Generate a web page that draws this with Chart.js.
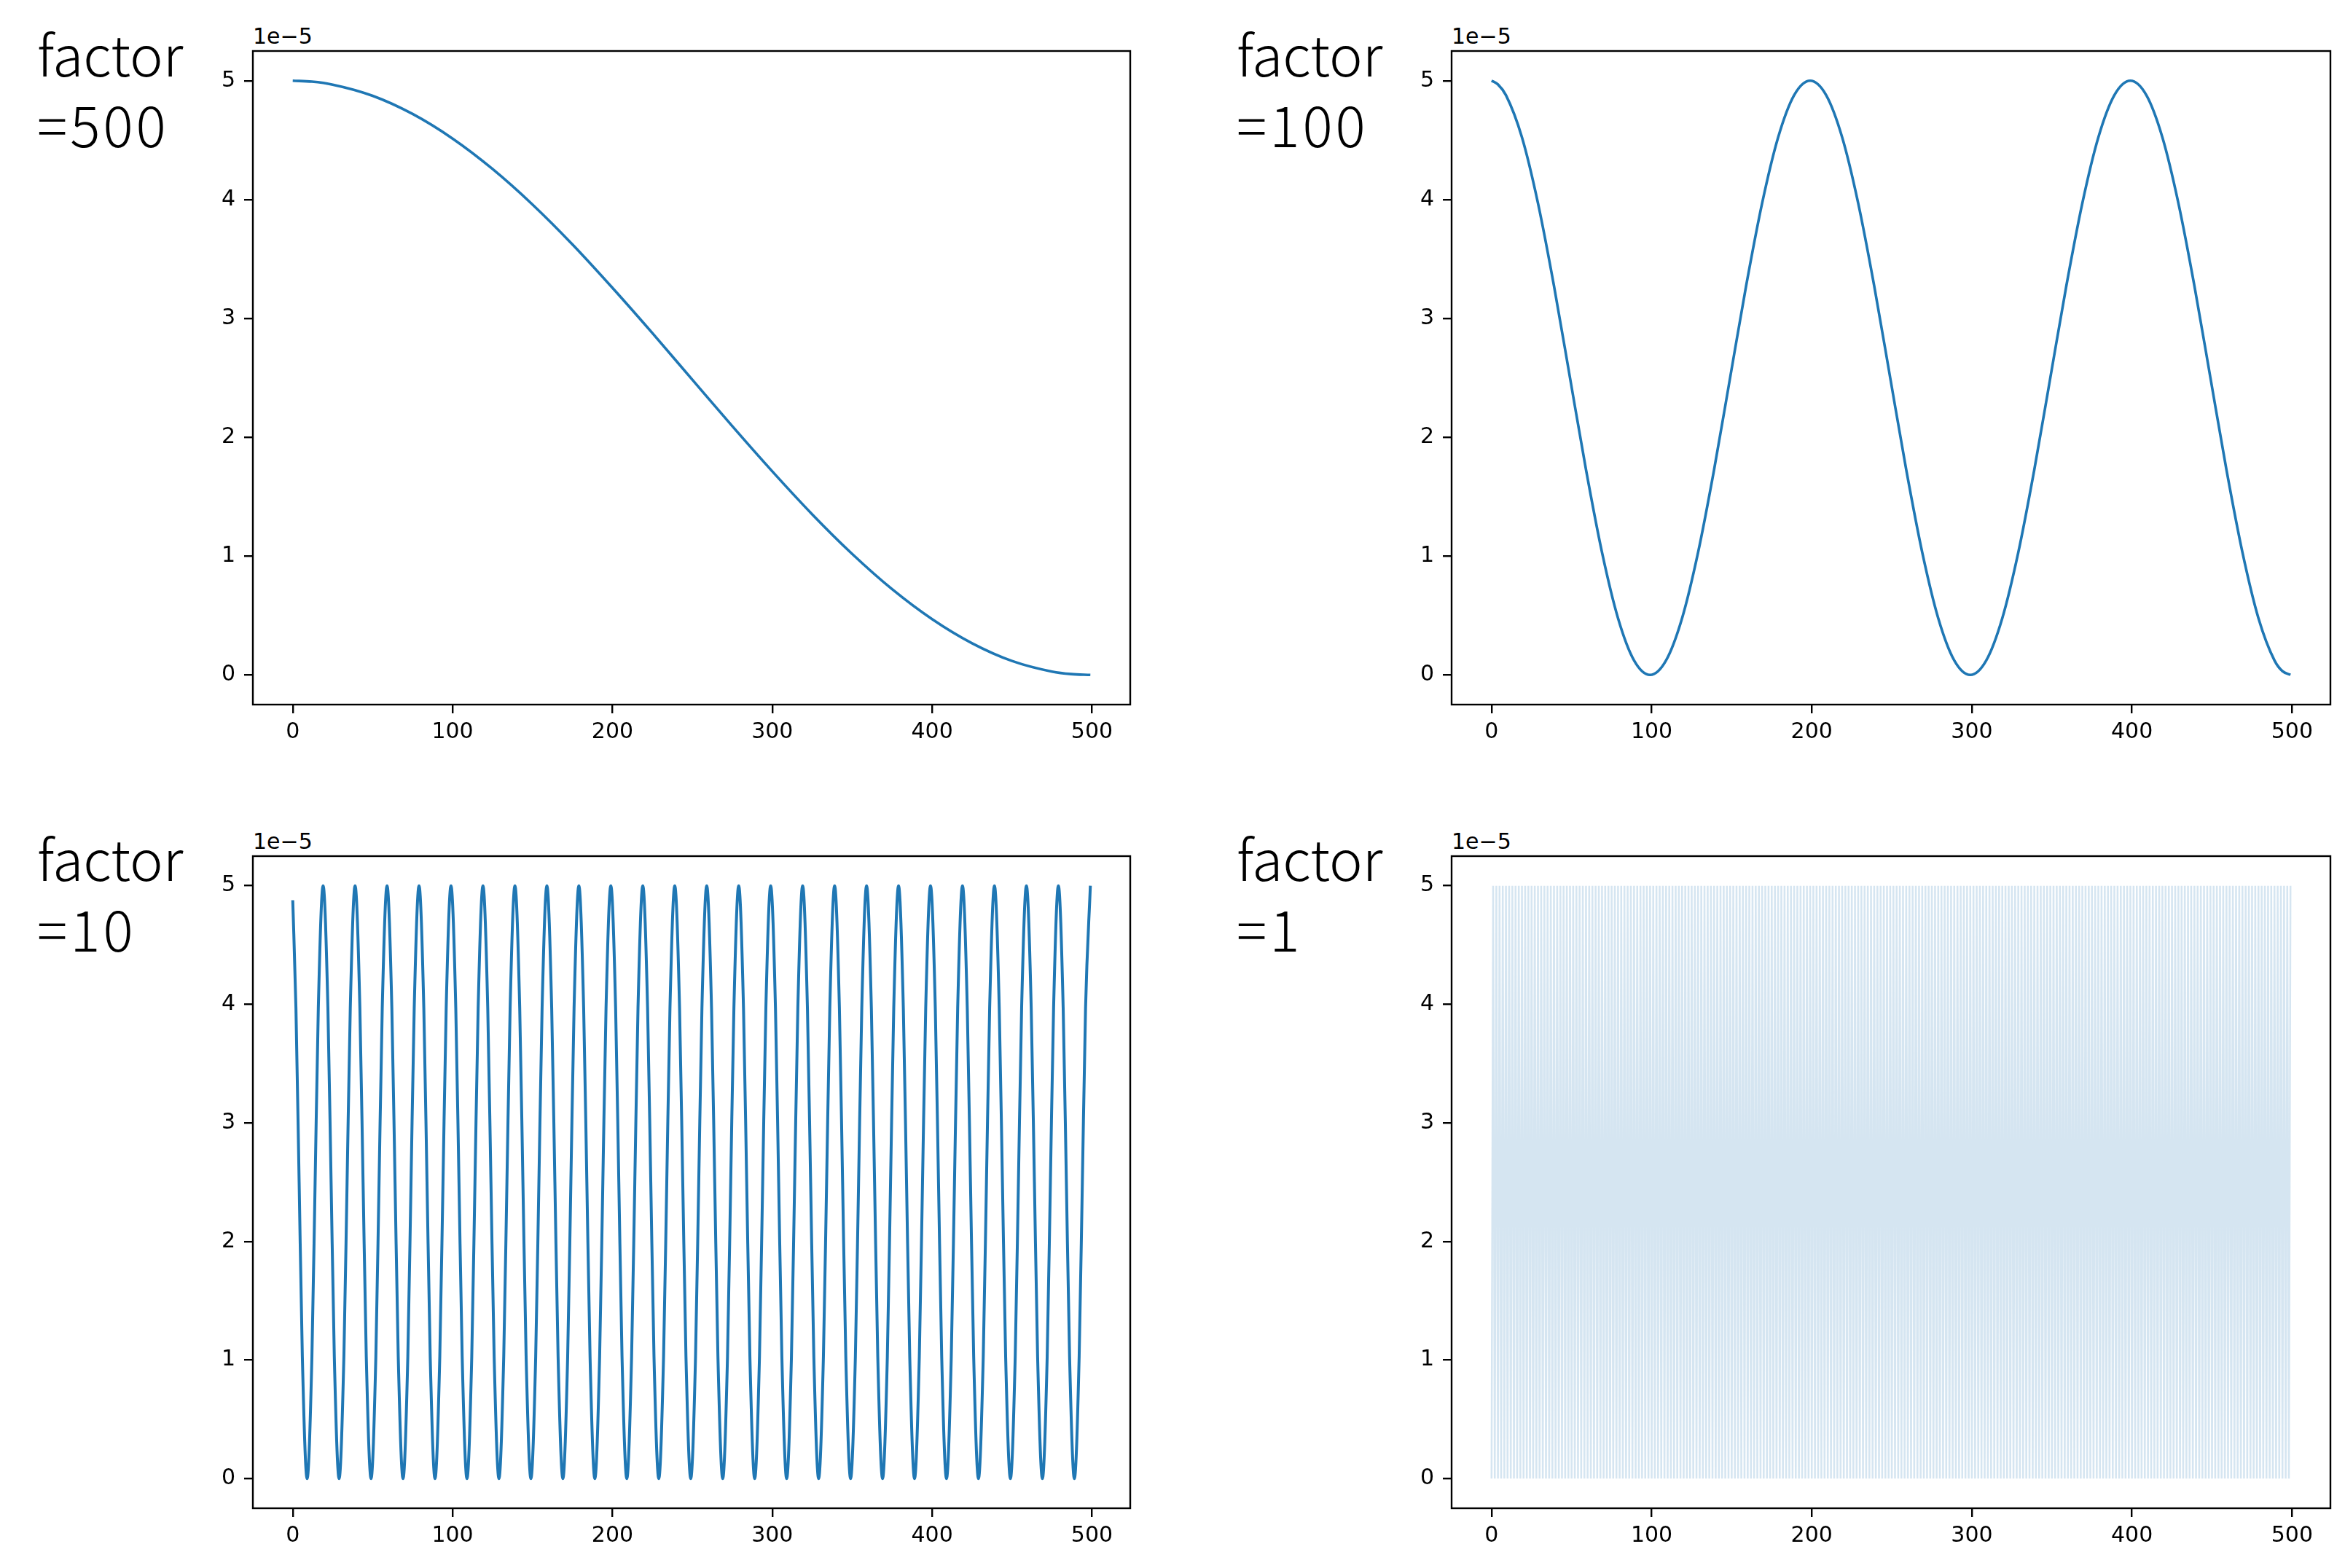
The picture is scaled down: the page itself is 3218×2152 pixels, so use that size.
<!DOCTYPE html>
<html>
<head>
<meta charset="utf-8">
<script src="https://cdn.jsdelivr.net/npm/chart.js@4.4.1/dist/chart.umd.min.js"></script>
<style>
  html, body { margin: 0; padding: 0; background: #fff; }
  body { width: 3218px; height: 2152px; position: relative; overflow: hidden; }
  canvas { position: absolute; }
  .factor { position: absolute; font-family: "Noto Sans CJK SC", "Noto Sans", sans-serif; font-weight: 300; font-size: 77px; line-height: 97px; color: #000; white-space: nowrap; }
  .factor span { letter-spacing: 4px; }
  .offset { position: absolute; font-family: "DejaVu Sans", sans-serif; font-size: 30px; line-height: 30px; color: #000; }
</style>
</head>
<body>
<div class="factor" style="left:51px;top:23px">factor<br><span>=500</span></div>
<div class="factor" style="left:1697px;top:23px">factor<br><span>=100</span></div>
<div class="factor" style="left:51px;top:1127px">factor<br><span>=10</span></div>
<div class="factor" style="left:1697px;top:1127px">factor<br><span>=1</span></div>
<div class="offset" style="left:347px;top:35px">1e−5</div>
<div class="offset" style="left:1992px;top:35px">1e−5</div>
<div class="offset" style="left:347px;top:1140px">1e−5</div>
<div class="offset" style="left:1992px;top:1140px">1e−5</div>
<script>
// cosine learning-rate curves, values in units of 1e-5
const xTicks = [0, 100, 200, 300, 400, 500];
const yTicks = [0, 1, 2, 3, 4, 5];

// factor = 500
const steps500 = [0, 12, 25, 50, 75, 100, 125, 150, 175, 200, 225, 250, 275, 300, 325, 350, 375, 400, 425, 450, 475, 487, 499];
const lr500 = [5.000, 4.992, 4.967, 4.873, 4.720, 4.513, 4.257, 3.958, 3.622, 3.257, 2.876, 2.484, 2.093, 1.713, 1.351, 1.018, 0.721, 0.469, 0.266, 0.117, 0.028, 0.007, 0.000];

// factor = 100
const steps100 = [0, 4, 9, 19, 29, 39, 49, 59, 69, 79, 89, 99, 109, 119, 129, 139, 149, 159, 169, 179, 189, 199,
  209, 219, 229, 239, 249, 259, 269, 279, 289, 299, 309, 319, 329, 339, 349, 359, 369, 379, 389, 399,
  409, 419, 429, 439, 449, 459, 469, 479, 489, 494, 499];
const lr100 = [5.000, 4.969,
  4.878, 4.523, 3.969, 3.273, 2.500, 1.727, 1.031, 0.477, 0.122, 0.000,
  0.122, 0.477, 1.031, 1.727, 2.500, 3.273, 3.969, 4.523, 4.878, 5.000,
  4.878, 4.523, 3.969, 3.273, 2.500, 1.727, 1.031, 0.477, 0.122, 0.000,
  0.122, 0.477, 1.031, 1.727, 2.500, 3.273, 3.969, 4.523, 4.878, 5.000,
  4.878, 4.523, 3.969, 3.273, 2.500, 1.727, 1.031, 0.477, 0.122, 0.031, 0.000];

// factor = 10
const steps10 = [0,
  2, 4, 6, 9, 12, 14, 16, 19, 22, 24, 26, 29, 32, 34, 36, 39,
  42, 44, 46, 49, 52, 54, 56, 59, 62, 64, 66, 69, 72, 74, 76, 79,
  82, 84, 86, 89, 92, 94, 96, 99, 102, 104, 106, 109, 112, 114, 116, 119,
  122, 124, 126, 129, 132, 134, 136, 139, 142, 144, 146, 149, 152, 154, 156, 159,
  162, 164, 166, 169, 172, 174, 176, 179, 182, 184, 186, 189, 192, 194, 196, 199,
  202, 204, 206, 209, 212, 214, 216, 219, 222, 224, 226, 229, 232, 234, 236, 239,
  242, 244, 246, 249, 252, 254, 256, 259, 262, 264, 266, 269, 272, 274, 276, 279,
  282, 284, 286, 289, 292, 294, 296, 299, 302, 304, 306, 309, 312, 314, 316, 319,
  322, 324, 326, 329, 332, 334, 336, 339, 342, 344, 346, 349, 352, 354, 356, 359,
  362, 364, 366, 369, 372, 374, 376, 379, 382, 384, 386, 389, 392, 394, 396, 399,
  402, 404, 406, 409, 412, 414, 416, 419, 422, 424, 426, 429, 432, 434, 436, 439,
  442, 444, 446, 449, 452, 454, 456, 459, 462, 464, 466, 469, 472, 474, 476, 479,
  482, 484, 486, 489, 492, 494, 496, 499];
const lr10 = [4.878,
  3.969, 2.5, 1.031, 0, 1.031, 2.5, 3.969, 5, 3.969, 2.5, 1.031, 0, 1.031, 2.5, 3.969, 5,
  3.969, 2.5, 1.031, 0, 1.031, 2.5, 3.969, 5, 3.969, 2.5, 1.031, 0, 1.031, 2.5, 3.969, 5,
  3.969, 2.5, 1.031, 0, 1.031, 2.5, 3.969, 5, 3.969, 2.5, 1.031, 0, 1.031, 2.5, 3.969, 5,
  3.969, 2.5, 1.031, 0, 1.031, 2.5, 3.969, 5, 3.969, 2.5, 1.031, 0, 1.031, 2.5, 3.969, 5,
  3.969, 2.5, 1.031, 0, 1.031, 2.5, 3.969, 5, 3.969, 2.5, 1.031, 0, 1.031, 2.5, 3.969, 5,
  3.969, 2.5, 1.031, 0, 1.031, 2.5, 3.969, 5, 3.969, 2.5, 1.031, 0, 1.031, 2.5, 3.969, 5,
  3.969, 2.5, 1.031, 0, 1.031, 2.5, 3.969, 5, 3.969, 2.5, 1.031, 0, 1.031, 2.5, 3.969, 5,
  3.969, 2.5, 1.031, 0, 1.031, 2.5, 3.969, 5, 3.969, 2.5, 1.031, 0, 1.031, 2.5, 3.969, 5,
  3.969, 2.5, 1.031, 0, 1.031, 2.5, 3.969, 5, 3.969, 2.5, 1.031, 0, 1.031, 2.5, 3.969, 5,
  3.969, 2.5, 1.031, 0, 1.031, 2.5, 3.969, 5, 3.969, 2.5, 1.031, 0, 1.031, 2.5, 3.969, 5,
  3.969, 2.5, 1.031, 0, 1.031, 2.5, 3.969, 5, 3.969, 2.5, 1.031, 0, 1.031, 2.5, 3.969, 5,
  3.969, 2.5, 1.031, 0, 1.031, 2.5, 3.969, 5, 3.969, 2.5, 1.031, 0, 1.031, 2.5, 3.969, 5,
  3.969, 2.5, 1.031, 0, 1.031, 2.5, 3.969, 5];

// factor = 1 (one value per step, 0..499)
const lr1 = [
  0, 5, 0, 5, 0, 5, 0, 5, 0, 5, 0, 5, 0, 5, 0, 5, 0, 5, 0, 5,
  0, 5, 0, 5, 0, 5, 0, 5, 0, 5, 0, 5, 0, 5, 0, 5, 0, 5, 0, 5,
  0, 5, 0, 5, 0, 5, 0, 5, 0, 5, 0, 5, 0, 5, 0, 5, 0, 5, 0, 5,
  0, 5, 0, 5, 0, 5, 0, 5, 0, 5, 0, 5, 0, 5, 0, 5, 0, 5, 0, 5,
  0, 5, 0, 5, 0, 5, 0, 5, 0, 5, 0, 5, 0, 5, 0, 5, 0, 5, 0, 5,
  0, 5, 0, 5, 0, 5, 0, 5, 0, 5, 0, 5, 0, 5, 0, 5, 0, 5, 0, 5,
  0, 5, 0, 5, 0, 5, 0, 5, 0, 5, 0, 5, 0, 5, 0, 5, 0, 5, 0, 5,
  0, 5, 0, 5, 0, 5, 0, 5, 0, 5, 0, 5, 0, 5, 0, 5, 0, 5, 0, 5,
  0, 5, 0, 5, 0, 5, 0, 5, 0, 5, 0, 5, 0, 5, 0, 5, 0, 5, 0, 5,
  0, 5, 0, 5, 0, 5, 0, 5, 0, 5, 0, 5, 0, 5, 0, 5, 0, 5, 0, 5,
  0, 5, 0, 5, 0, 5, 0, 5, 0, 5, 0, 5, 0, 5, 0, 5, 0, 5, 0, 5,
  0, 5, 0, 5, 0, 5, 0, 5, 0, 5, 0, 5, 0, 5, 0, 5, 0, 5, 0, 5,
  0, 5, 0, 5, 0, 5, 0, 5, 0, 5, 0, 5, 0, 5, 0, 5, 0, 5, 0, 5,
  0, 5, 0, 5, 0, 5, 0, 5, 0, 5, 0, 5, 0, 5, 0, 5, 0, 5, 0, 5,
  0, 5, 0, 5, 0, 5, 0, 5, 0, 5, 0, 5, 0, 5, 0, 5, 0, 5, 0, 5,
  0, 5, 0, 5, 0, 5, 0, 5, 0, 5, 0, 5, 0, 5, 0, 5, 0, 5, 0, 5,
  0, 5, 0, 5, 0, 5, 0, 5, 0, 5, 0, 5, 0, 5, 0, 5, 0, 5, 0, 5,
  0, 5, 0, 5, 0, 5, 0, 5, 0, 5, 0, 5, 0, 5, 0, 5, 0, 5, 0, 5,
  0, 5, 0, 5, 0, 5, 0, 5, 0, 5, 0, 5, 0, 5, 0, 5, 0, 5, 0, 5,
  0, 5, 0, 5, 0, 5, 0, 5, 0, 5, 0, 5, 0, 5, 0, 5, 0, 5, 0, 5,
  0, 5, 0, 5, 0, 5, 0, 5, 0, 5, 0, 5, 0, 5, 0, 5, 0, 5, 0, 5,
  0, 5, 0, 5, 0, 5, 0, 5, 0, 5, 0, 5, 0, 5, 0, 5, 0, 5, 0, 5,
  0, 5, 0, 5, 0, 5, 0, 5, 0, 5, 0, 5, 0, 5, 0, 5, 0, 5, 0, 5,
  0, 5, 0, 5, 0, 5, 0, 5, 0, 5, 0, 5, 0, 5, 0, 5, 0, 5, 0, 5,
  0, 5, 0, 5, 0, 5, 0, 5, 0, 5, 0, 5, 0, 5, 0, 5, 0, 5, 0, 5];
const steps1 = lr1.map((v, i) => i);

// axes boxes: left, top, right, bottom (page pixels)
const panels = [
  { steps: steps500, lr: lr500, box: [347, 70, 1551, 967], color: '#1f77b4', width: 3.6, curve: true },
  { steps: steps100, lr: lr100, box: [1992, 70, 3198, 967], color: '#1f77b4', width: 3.6, curve: true },
  { steps: steps10, lr: lr10, box: [347, 1175, 1551, 2070], color: '#1f77b4', width: 4, curve: true },
  { steps: steps1, lr: lr1, box: [1992, 1175, 3198, 2070], color: 'rgba(31,119,180,0.19)', width: 2.5, curve: false }
];

const frame = {
  id: 'frame',
  afterDraw(chart) {
    const a = chart.chartArea;
    const ctx = chart.ctx;
    ctx.save();
    ctx.strokeStyle = '#000';
    ctx.lineWidth = 2.4;
    ctx.strokeRect(a.left, a.top, a.right - a.left, a.bottom - a.top);
    ctx.restore();
  }
};

const tickFont = { family: 'DejaVu Sans', size: 30 };

function makeChart(p) {
  const padL = 150, padT = 20, padR = 20, padB = 90;
  const w = p.box[2] - p.box[0] + padL + padR;
  const h = p.box[3] - p.box[1] + padT + padB;
  const cv = document.createElement('canvas');
  cv.width = w;
  cv.height = h;
  cv.style.left = (p.box[0] - padL) + 'px';
  cv.style.top = (p.box[1] - padT) + 'px';
  cv.style.width = w + 'px';
  cv.style.height = h + 'px';
  document.body.appendChild(cv);

  const points = p.steps.map((x, i) => ({ x: x, y: p.lr[i] }));

  return new Chart(cv.getContext('2d'), {
    type: 'line',
    data: {
      datasets: [{
        data: points,
        borderColor: p.color,
        borderWidth: p.width,
        pointRadius: 0,
        fill: false,
        tension: 0,
        cubicInterpolationMode: p.curve ? 'monotone' : 'default'
      }]
    },
    options: {
      responsive: false,
      animation: false,
      devicePixelRatio: 1,
      layout: { padding: { left: 0, top: padT, right: padR, bottom: 0 } },
      plugins: { legend: { display: false }, tooltip: { enabled: false } },
      scales: {
        x: {
          type: 'linear',
          min: -24.95,
          max: 523.95,
          afterFit(scale) {
            scale.height = padB;
            scale.paddingLeft = 0;
            scale.paddingRight = 0;
          },
          afterBuildTicks(scale) { scale.ticks = xTicks.map(v => ({ value: v })); },
          border: { display: false },
          grid: { display: true, drawOnChartArea: false, drawTicks: true, tickLength: 12, lineWidth: 2.4, color: '#000' },
          ticks: { font: tickFont, color: '#000', padding: 8, autoSkip: false, maxRotation: 0, callback: v => String(v) }
        },
        y: {
          type: 'linear',
          min: -0.25,
          max: 5.25,
          afterFit(scale) {
            scale.width = padL;
            scale.paddingTop = 0;
            scale.paddingBottom = 0;
          },
          afterBuildTicks(scale) { scale.ticks = yTicks.map(v => ({ value: v })); },
          border: { display: false },
          grid: { display: true, drawOnChartArea: false, drawTicks: true, tickLength: 12, lineWidth: 2.4, color: '#000' },
          ticks: { font: tickFont, color: '#000', padding: 12, autoSkip: false, callback: v => String(v) }
        }
      }
    },
    plugins: [frame]
  });
}

panels.forEach(makeChart);
</script>
</body>
</html>
